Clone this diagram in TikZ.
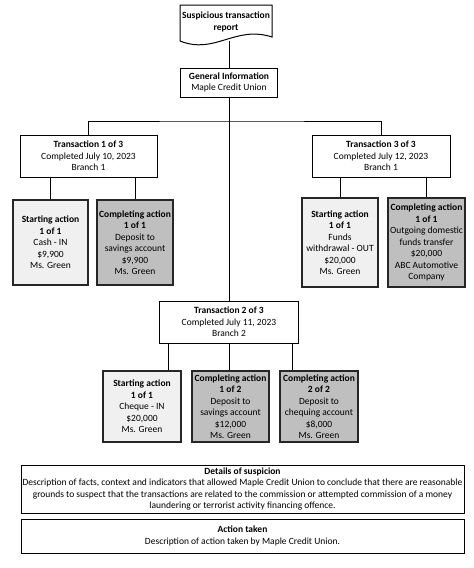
\documentclass[tikz,border=0pt]{standalone}
\usepackage{fontspec}
\setmainfont{Carlito}
\tikzset{
  txt/.style={font=\fontsize{9.5}{11.5}\selectfont, align=center, inner sep=0pt},
  mainbox/.style={txt, draw=black, line width=1pt, fill=white},
  startbox/.style={txt, draw=black!85, line width=1.6pt, fill=black!6},
  compbox/.style={txt, draw=black!85, line width=1.6pt, fill=black!25},
  conn/.style={draw=black, line width=1pt}
}
\begin{document}
\begin{tikzpicture}[x=1pt,y=-1pt]
\useasboundingbox (0,0) rectangle (474,568);
% document shape
\draw[line width=1pt, fill=white] (180,5) -- (272,5) -- (272,37)
  .. controls (235,25) and (215,55) .. (180,41) -- cycle;
\node[txt, font=\fontsize{9.5}{11.5}\selectfont\bfseries, minimum width=92pt] (doc) at (226,22) {Suspicious transaction\\report};
\coordinate (docb) at (229,41);

\node[mainbox, minimum width=97pt, minimum height=29pt] (gi) at (229,82.5) {\textbf{General Information}\\Maple Credit Union};
\node[mainbox, minimum width=137pt, minimum height=42pt] (t1) at (88.5,156) {\textbf{Transaction 1 of 3}\\Completed July 10, 2023\\Branch 1};
\node[mainbox, minimum width=138pt, minimum height=42pt] (t3) at (381,156) {\textbf{Transaction 3 of 3}\\Completed July 12, 2023\\Branch 1};
\node[mainbox, minimum width=139pt, minimum height=42pt] (t2) at (229,322) {\textbf{Transaction 2 of 3}\\Completed July 11, 2023\\Branch 2};

\node[startbox, minimum width=75pt, minimum height=85pt] (s1) at (50.5,242.5) {\textbf{Starting action}\\\textbf{1 of 1}\\Cash - IN\\\$9,900\\Ms. Green};
\node[compbox, minimum width=76pt, minimum height=85pt] (c1) at (135,242.5) {\textbf{Completing action}\\\textbf{1 of 1}\\Deposit to\\savings account\\\$9,900\\Ms. Green};
\node[startbox, minimum width=76pt, minimum height=89pt] (s3) at (340,242.5) {\textbf{Starting action}\\\textbf{1 of 1}\\Funds\\withdrawal - OUT\\\$20,000\\Ms. Green};
\node[compbox, minimum width=77pt, minimum height=89pt] (c3) at (426.5,242.5) {\textbf{Completing action}\\\textbf{1 of 1}\\Outgoing domestic\\funds transfer\\\$20,000\\ABC Automotive\\Company};

\node[startbox, minimum width=78pt, minimum height=71pt] (s2) at (142,406.5) {\textbf{Starting action}\\\textbf{1 of 1}\\Cheque - IN\\\$20,000\\Ms. Green};
\node[compbox, minimum width=77pt, minimum height=71pt] (c2a) at (230.5,406.5) {\textbf{Completing action}\\\textbf{1 of 2}\\Deposit to\\savings account\\\$12,000\\Ms. Green};
\node[compbox, minimum width=78pt, minimum height=71pt] (c2b) at (319,406.5) {\textbf{Completing action}\\\textbf{2 of 2}\\Deposit to\\chequing account\\\$8,000\\Ms. Green};

\node[mainbox, minimum width=443pt, minimum height=48pt] (det) at (242.5,489) {\textbf{Details of suspicion}\\Description of facts, context and indicators that allowed Maple Credit Union to conclude that there are reasonable\\grounds to suspect that the transactions are related to the commission or attempted commission of a money\\laundering or terrorist activity financing offence.};
\node[mainbox, minimum width=443pt, minimum height=34pt] (act) at (242.5,536) {\textbf{Action taken}\\Description of action taken by Maple Credit Union.};

% connectors
\coordinate (bus) at (229,121);
\draw[conn] (docb) -- (gi.north);
\draw[conn] (gi.south) -- (t2.north);
\draw[conn] (t1.north) |- (bus) -| (t3.north);
\draw[conn] (s1.north) -- (s1.north |- t1.south);
\draw[conn] (c1.north) -- (c1.north |- t1.south);
\draw[conn] (s3.north) -- (s3.north |- t3.south);
\draw[conn] (c3.north) -- (c3.north |- t3.south);
\draw[conn] ([xshift=9pt]t2.south west) -- ([xshift=9pt]t2.south west |- s2.north);
\draw[conn] (t2.south) -- (t2.south |- c2a.north);
\draw[conn] ([xshift=-7pt]t2.south east) -- ([xshift=-7pt]t2.south east |- c2b.north);
\end{tikzpicture}
\end{document}
